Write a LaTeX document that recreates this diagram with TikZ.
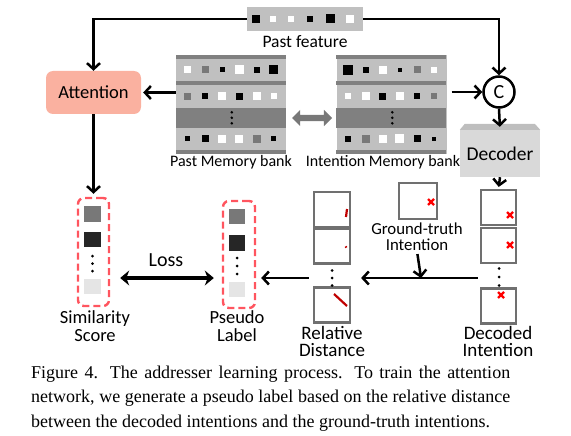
\documentclass[tikz,border=0pt]{standalone}
\usepackage{fontspec}
\setmainfont{Liberation Serif}
\newfontfamily\diagfont{Carlito}
\usetikzlibrary{arrows.meta,positioning,shapes.arrows}

\definecolor{attnpink}{RGB}{250,177,160}
\definecolor{banklight}{RGB}{192,192,192}
\definecolor{bankdark}{RGB}{128,128,128}
\definecolor{midgray}{RGB}{120,120,120}
\definecolor{boxgray}{RGB}{112,112,112}
\definecolor{dashred}{RGB}{255,85,95}
\definecolor{markred}{RGB}{255,0,0}
\definecolor{distred}{RGB}{192,0,0}
\definecolor{decfront}{RGB}{217,217,217}
\definecolor{dectop}{RGB}{190,190,190}
\definecolor{scoredark}{RGB}{38,38,38}
\definecolor{scorelight}{RGB}{229,229,229}

\tikzset{
  arr/.style={line width=2.5pt, -{Straight Barb[length=6pt,width=13pt]}},
  lossarr/.style={line width=4.5pt, {Stealth[length=9pt,width=15pt]}-{Stealth[length=9pt,width=15pt]}},
  bank/.style={fill=banklight, minimum width=110, minimum height=99, inner sep=0},
  ibox/.style={draw=boxgray, line width=2.2pt, fill=white, minimum width=35, minimum height=35, inner sep=0},
  dashbox/.style={draw=dashred, line width=2.4pt, dash pattern=on 7pt off 4pt, rounded corners=6pt, inner sep=0},
  crossmark/.style={markred, line width=2.4pt},
  distline/.style={distred, line width=2.2pt},
  lbl/.style={font=\diagfont\fontsize{18.5}{18}\selectfont, align=center, inner sep=0},
  banklbl/.style={font=\diagfont\fontsize{16}{16}\selectfont, inner sep=0},
}

% one memory bank: node name, then three rows of size/colour
\newcommand{\bankrows}[4]{%
  \begin{scope}[shift={(#1.north west)}]
    \foreach \ya/\yb in {0/4, 26/30, 53/73, 95/99}
      \fill[bankdark] (0,\ya) rectangle (110,\yb);
    \foreach \s/\c [count=\i from 0] in {#2}
      \fill[\c] ({12+17.2*\i-\s/2},{15-\s/2}) rectangle +(\s,\s);
    \foreach \s/\c [count=\i from 0] in {#3}
      \fill[\c] ({12+17.2*\i-\s/2},{41.5-\s/2}) rectangle +(\s,\s);
    \foreach \s/\c [count=\i from 0] in {#4}
      \fill[\c] ({12+17.2*\i-\s/2},{84-\s/2}) rectangle +(\s,\s);
    \foreach \d in {-5.5,0,5.5} \fill (56,63+\d) circle (1.4);
  \end{scope}}
\newcommand{\cross}[3]{\draw[crossmark, shift={(#1.center)}] (#2-3,#3-3) -- (#2+3,#3+3) (#2-3,#3+3) -- (#2+3,#3-3);}
\newcommand{\dotstack}[3]{\foreach \d in {-1,0,1} \fill (#1,#2+#3*\d) circle (1.5);}

\begin{document}
\begin{tikzpicture}[x=1pt, y=-1pt, font=\diagfont]
  \useasboundingbox (0,0) rectangle (571,436);

  % Past feature strip
  \node[fill=banklight, minimum width=116, minimum height=24, inner sep=0] (pastfeat) at (305,19) {};
  \foreach \xc/\s/\c in {255.5/8/black, 273/6.5/white, 291/6.5/white, 309.5/6/black, 330.5/9/black, 350/8/white}
    \fill[\c] ({\xc-\s/2},{19-\s/2}) rectangle +(\s,\s);
  \node[lbl, font=\diagfont\fontsize{17.5}{18}\selectfont] (featlab) at (305,42) {Past feature};

  % Memory banks
  \node[bank] (pastbank) at (231,104.5) {};
  \bankrows{pastbank}{7/white, 7/midgray, 5/black, 9/white, 6/black, 9/black}
    {7/midgray, 6/black, 8/white, 7/black, 8/white, 6/white}
    {5/black, 7/black, 8/white, 8/white, 8/midgray, 5/black}
  \node[bank] (intbank) at (391.5,104.5) {};
  \bankrows{intbank}{10/black, 6/black, 8/white, 4/black, 7/midgray, 6/white}
    {6/white, 8/white, 7/black, 8/white, 6/black, 6/midgray}
    {6/black, 8/midgray, 8/white, 9/white, 7/black, 4/black}
  \node[double arrow, fill=midgray, minimum height=40, minimum width=16,
    double arrow head extend=5pt, inner sep=3pt] (bankarrow) at (312,118) {};
  \node[banklbl] (pastlab) at (231,162) {Past Memory bank};
  \node[banklbl] (intlab) at (383,162) {Intention Memory bank};

  % Attention, concatenation and decoder
  \node[fill=attnpink, rounded corners=7pt, minimum width=95, minimum height=43,
    font=\diagfont\fontsize{18.5}{20}\selectfont] (attn) at (93.5,92.5) {Attention};
  \node[draw, circle, line width=2.5pt, minimum size=31, inner sep=0,
    font=\diagfont\fontsize{20}{20}\selectfont] (concat) at (499,92) {C};
  \node[fill=decfront, minimum width=80, minimum height=47,
    font=\diagfont\fontsize{19.5}{20}\selectfont] (dec) at (500,153.5) {Decoder};
  \fill[dectop] (dec.north west) -- ++(5,-6) -- ++(70,0) -- (dec.north east) -- cycle;

  % Decoded intention
  \node[ibox] (dec1) at (498.5,207.5) {};
  \node[ibox] (dec2) at (498.5,245.5) {};
  \node[ibox] (dec3) at (498.5,306) {};
  \dotstack{499}{277}{8.5}
  \cross{dec1}{11.5}{7.5}
  \cross{dec2}{11.5}{-0.5}
  \cross{dec3}{2.5}{-11}
  \node[lbl, font=\diagfont\fontsize{19}{17.5}\selectfont] (declab) at (498,341.5) {Decoded\\Intention};

  % Ground-truth intention
  \node[ibox, minimum width=38, minimum height=36] (gt) at (418,201) {};
  \cross{gt}{13}{1}
  \node[lbl, font=\diagfont\fontsize{16.8}{16}\selectfont] (gtlab) at (417,237) {Ground-truth\\Intention};
  \coordinate (gtjoin) at (421,278);

  % Relative distance
  \node[ibox, minimum width=36] (rel1) at (332,209.5) {};
  \node[ibox, minimum width=36] (rel2) at (332,246) {};
  \node[ibox, minimum width=36] (rel3) at (332,305) {};
  \dotstack{332}{278}{7.5}
  \draw[distline, shift={(rel1.center)}] (15,-0.5) -- (14,7.5);
  \draw[distline, shift={(rel2.center)}] (13.6,0.4) -- (14.4,1.6);
  \draw[distline, shift={(rel3.center)}] (2,-11) -- (15,1);
  \node[lbl, font=\diagfont\fontsize{19}{17.5}\selectfont] (rellab) at (332,341.5) {Relative\\Distance};

  % Similarity score and pseudo label
  \node[dashbox, minimum width=31, minimum height=108] (simcol) at (93.5,252) {};
  \fill[midgray] (84,206) rectangle (101,222);
  \fill[scoredark] (84,232) rectangle (101,247);
  \fill[scorelight] (84,279) rectangle (101,294);
  \dotstack{92.5}{263.5}{7.5}
  \node[lbl] (simlab) at (95,326) {Similarity\\Score};
  \node[dashbox, minimum width=32, minimum height=107] (pseudo) at (239,254.5) {};
  \fill[midgray] (229,209) rectangle (245,224);
  \fill[scoredark] (229,235) rectangle (245,251);
  \fill[scorelight] (229,282) rectangle (245,297);
  \dotstack{237}{266}{8}
  \node[lbl] (pseudolab) at (237,326) {Pseudo\\Label};

  % Connectors
  \draw[arr] (pastfeat.west) -| (attn.north);
  \draw[arr] (pastfeat.east) -| (concat.north);
  \draw[arr, shorten >=2pt] (pastbank.west |- attn) -- (attn.east);
  \draw[arr, shorten <=5pt] (intbank.east |- concat) -- (concat.west);
  \draw[arr, shorten >=3pt] (concat.south) -- (dec.north);
  \draw[arr, shorten >=2pt] (dec.south) -- (dec1.north);
  \draw[arr, shorten >=3pt] (attn.south) -- (simcol.north);
  \draw[arr, shorten <=3pt] (gtlab.south) -- (gtjoin);
  \draw[arr, shorten <=2pt, shorten >=10pt] (dec2.west |- gtjoin) -- (rel2.east |- gtjoin);
  \draw[arr, shorten <=4pt, shorten >=5pt] (rel2.west |- gtjoin) -- (pseudo.east |- gtjoin);
  \draw[lossarr, shorten <=10pt, shorten >=8pt] (simcol.east |- gtjoin) --
    node[above=9pt, font=\diagfont\fontsize{20}{20}\selectfont, inner sep=0] (losslab) {Loss} (pseudo.west |- gtjoin);

  % Caption
  \node[anchor=north west, text width=479, align=justify, inner sep=0,
    font=\rmfamily\fontsize{18}{24.5}\selectfont] (caption) at (31,365.5)
    {Figure 4. The addresser learning process. To train the attention\linebreak
     network, we generate a pseudo label based on the relative distance\linebreak
     between the decoded intentions and the ground-truth intentions.};
\end{tikzpicture}
\end{document}
